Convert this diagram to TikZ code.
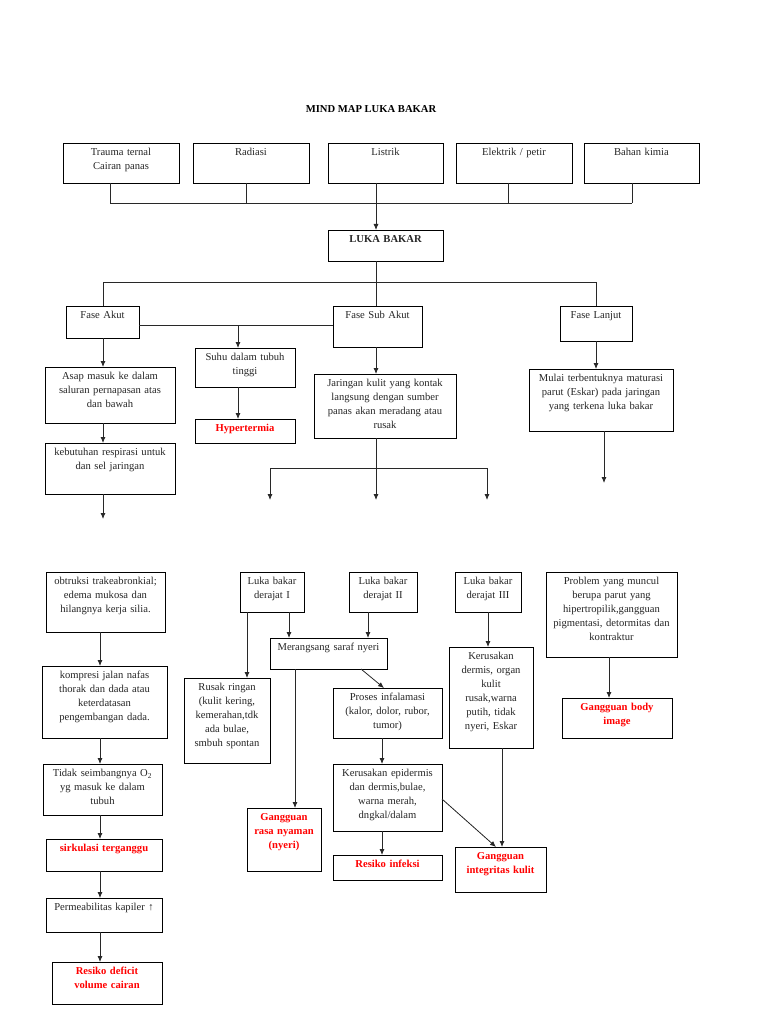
\documentclass[tikz,border=0pt]{standalone}
\usepackage{fontspec}
\setmainfont{Liberation Serif}
\usetikzlibrary{arrows.meta}
\definecolor{ln}{RGB}{40,40,40}
\newcommand\rb[1]{\textcolor{red}{\bfseries #1}}
\newcommand\bx[6]{%
 \pgfmathsetmacro\bw{#4-#2}\pgfmathsetmacro\bh{#5-#3}%
 \node[box,minimum width=\bw pt,minimum height=\bh pt,anchor=north west] (#1) at (#2,#3) {};
 \node[txt,text width=\bw pt+14pt,anchor=north] (#1t) at ([yshift=-2pt]#1.north) {#6};}
\begin{document}
\begin{tikzpicture}[x=1pt,y=-1pt,
 box/.style={draw=black,line width=0.9pt,inner sep=0pt,outer sep=0pt},
 txt/.style={inner sep=3pt,align=center,text=black!85,font=\fontsize{10.6}{14}\selectfont},
 ln/.style={draw=ln,line width=0.8pt},
 arr/.style={ln,-{Latex[length=6pt,width=5pt]}}]
\useasboundingbox[fill=white] (0,0) rectangle (768,1024);
\node[font=\fontsize{10.6}{14}\selectfont\bfseries] (title) at (371,109) {MIND MAP LUKA BAKAR};
% top row
\bx{t1}{63}{143}{179}{183}{Trauma ternal\\Cairan panas}
\bx{t2}{193}{143}{309}{183}{Radiasi}
\bx{t3}{328}{143}{443}{183}{Listrik}
\bx{t4}{456}{143}{572}{183}{Elektrik / petir}
\bx{t5}{584}{143}{699}{183}{Bahan kimia}
\coordinate (hb) at (376,203);
\draw[ln] (t1.south -| 110,0) -- (110,203) -- (632,203);
\draw[ln] (t2.south -| 246,0) -- (246,203);
\draw[ln] (t3.south -| 376,0) -- (376,203);
\draw[ln] (t4.south -| 508,0) -- (508,203);
\draw[ln] (t5.south -| 632,0) -- (632,203);
\bx{lb}{328}{230}{443}{261}{\bfseries LUKA BAKAR}
\draw[arr] (hb) -- (lb.north -| 376,0);
% fases
\bx{fa}{66}{306}{139}{338}{Fase Akut}
\bx{fs}{333}{306}{422}{347}{Fase Sub Akut}
\bx{fl}{560}{306}{632}{341}{Fase Lanjut}
\draw[ln] (lb.south -| 376,0) -- (376,282);
\draw[ln] (fa.north -| 103,0) -- (103,282) -- (596,282) -- (fl.north -| 596,0);
\draw[ln] (376,282) -- (fs.north -| 376,0);
\draw[ln] (fa.east |- 0,325) -- (fs.west |- 0,325);
\bx{su}{195}{348}{295}{387}{Suhu dalam tubuh\\tinggi}
\bx{hy}{195}{419}{295}{443}{\rb{Hypertermia}}
\draw[arr] (238,325) -- (su.north -| 238,0);
\draw[arr] (su.south -| 238,0) -- (hy.north -| 238,0);
\bx{as}{45}{367}{175}{423}{Asap masuk ke dalam\\saluran pernapasan atas\\dan bawah}
\bx{ke}{45}{443}{175}{494}{kebutuhan respirasi untuk\\dan sel jaringan}
\draw[arr] (fa.south -| 103,0) -- (as.north -| 103,0);
\draw[arr] (as.south -| 103,0) -- (ke.north -| 103,0);
\coordinate (ke2) at (103,519);
\draw[arr] (ke.south -| 103,0) -- (ke2);
\bx{ja}{314}{374}{456}{438}{Jaringan kulit yang kontak\\langsung dengan sumber\\panas akan meradang atau\\rusak}
\draw[arr] (fs.south -| 376,0) -- (ja.north -| 376,0);
\coordinate (j1) at (270,500); \coordinate (j2) at (376,500); \coordinate (j3) at (487,500);
\draw[ln] (ja.south -| 376,0) -- (376,468);
\draw[ln] (270,468) -- (487,468);
\draw[arr] (270,468) -- (j1);
\draw[arr] (376,468) -- (j2);
\draw[arr] (487,468) -- (j3);
\bx{mu}{529}{369}{673}{431}{Mulai terbentuknya maturasi\\parut (Eskar) pada jaringan\\yang terkena luka bakar}
\draw[arr] (fl.south -| 596,0) -- (mu.north -| 596,0);
\coordinate (mu2) at (604,483);
\draw[arr] (mu.south -| 604,0) -- (mu2);
% left column
\bx{ob}{46}{572}{165}{632}{obtruksi trakeabronkial;\\edema mukosa dan\\hilangnya kerja silia.}
\bx{ko}{42}{666}{167}{738}{kompresi jalan nafas\\thorak dan dada atau\\keterdatasan\\pengembangan dada.}
\bx{ti}{43}{764}{162}{815}{Tidak seimbangnya O\textsubscript{2}\\yg masuk ke dalam\\tubuh}
\bx{si}{46}{839}{162}{871}{\rb{sirkulasi terganggu}}
\bx{pe}{46}{898}{162}{932}{Permeabilitas kapiler ↑}
\bx{rd}{52}{962}{162}{1004}{\rb{Resiko deficit}\\\rb{volume cairan}}
\draw[arr] (ob.south -| 100,0) -- (ko.north -| 100,0);
\draw[arr] (ko.south -| 100,0) -- (ti.north -| 100,0);
\draw[arr] (ti.south -| 100,0) -- (si.north -| 100,0);
\draw[arr] (si.south -| 100,0) -- (pe.north -| 100,0);
\draw[arr] (pe.south -| 100,0) -- (rd.north -| 100,0);
% middle
\bx{d1}{240}{572}{304}{612}{Luka bakar\\derajat I}
\bx{d2}{349}{572}{417}{612}{Luka bakar\\derajat II}
\bx{d3}{455}{572}{521}{612}{Luka bakar\\derajat III}
\bx{pr}{546}{572}{677}{657}{Problem yang muncul\\berupa parut yang\\hipertropilik,gangguan\\pigmentasi, detormitas dan\\kontraktur}
\bx{me}{270}{638}{387}{669}{Merangsang saraf nyeri}
\bx{ru}{184}{678}{270}{763}{Rusak ringan\\(kulit kering,\\kemerahan,tdk\\ada bulae,\\smbuh spontan}
\bx{ps}{333}{688}{442}{738}{Proses infalamasi\\(kalor, dolor, rubor,\\tumor)}
\bx{gn}{247}{808}{321}{871}{\rb{Gangguan}\\\rb{rasa nyaman}\\\rb{(nyeri)}}
\bx{ep}{333}{764}{442}{831}{Kerusakan epidermis\\dan dermis,bulae,\\warna merah,\\dngkal/dalam}
\bx{ri}{333}{855}{442}{880}{\rb{Resiko infeksi}}
\bx{de}{449}{647}{533}{748}{Kerusakan\\dermis, organ\\kulit\\rusak,warna\\putih, tidak\\nyeri, Eskar}
\bx{gi}{455}{847}{546}{892}{\rb{Gangguan}\\\rb{integritas kulit}}
\bx{gb}{562}{698}{672}{738}{\rb{Gangguan body}\\\rb{image}}
\draw[arr] (d1.south -| 247,0) -- (ru.north -| 247,0);
\draw[arr] (d1.south -| 289,0) -- (me.north -| 289,0);
\draw[arr] (d2.south -| 368,0) -- (me.north -| 368,0);
\draw[arr] (me.south -| 361,0) -- (ps.north -| 384,0);
\draw[arr] (me.south -| 295,0) -- (gn.north -| 295,0);
\draw[arr] (ps.south -| 382,0) -- (ep.north -| 382,0);
\draw[arr] (ep.south -| 382,0) -- (ri.north -| 382,0);
\draw[arr] (d3.south -| 488,0) -- (de.north -| 488,0);
\draw[arr] (de.south -| 502,0) -- (gi.north -| 502,0);
\draw[arr] (ep.east |- 0,799) -- (gi.north -| 496,0);
\draw[arr] (pr.south -| 609,0) -- (gb.north -| 609,0);
\end{tikzpicture}
\end{document}
